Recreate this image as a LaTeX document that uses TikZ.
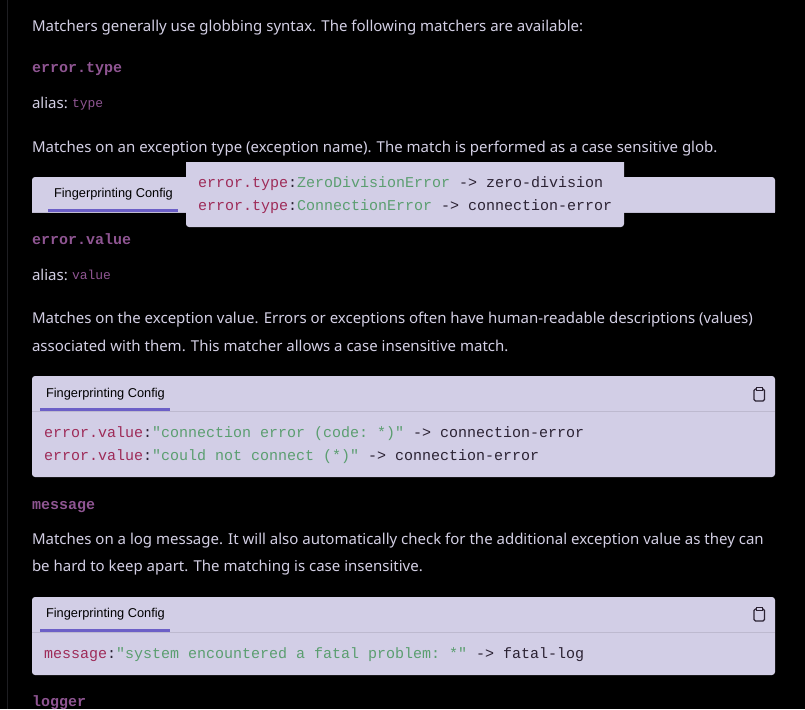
\documentclass[tikz,border=0pt]{standalone}
\usepackage{fontspec}
\setmainfont{Noto Sans}
\setmonofont{Liberation Mono}
\newfontfamily\tabfont{Liberation Sans}
\definecolor{pagebg}{HTML}{000000}
\definecolor{rulebg}{HTML}{1E1E22}
\definecolor{bodytxt}{HTML}{D3CFE4}
\definecolor{headtxt}{HTML}{8F5592}
\definecolor{boxbg}{HTML}{D2CEE6}
\definecolor{boxline}{HTML}{BDB9CF}
\definecolor{tabline}{HTML}{6C5FC7}
\definecolor{keytxt}{HTML}{9E2B58}
\definecolor{strtxt}{HTML}{5B9E70}
\definecolor{darktxt}{HTML}{2B2233}
\newcommand{\ckey}[1]{\textcolor{keytxt}{#1}}
\newcommand{\cstr}[1]{\textcolor{strtxt}{#1}}
\tikzset{
  every node/.style={inner sep=0pt, outer sep=0pt, anchor=base west},
  bodyline/.style={text=bodytxt, font=\fontsize{15}{16}\selectfont},
  headline/.style={text=headtxt, font=\fontsize{15}{16}\ttfamily\bfseries},
  aliasword/.style={text=headtxt, font=\fontsize{13}{16}\ttfamily},
  tablabel/.style={text=black, font=\fontsize{12.8}{16}\tabfont},
  codeline/.style={text=darktxt, font=\fontsize{15}{16}\ttfamily},
  codebox/.style={fill=boxbg},
  tabbar/.style={fill=tabline},
  sepline/.style={draw=boxline, line width=1pt},
}
\begin{document}
\begin{tikzpicture}[x=1pt, y=-1pt]
  \fill[pagebg] (0,0) rectangle (805,709);
  \useasboundingbox (0,0) rectangle (805,709);
  \clip (0,0) rectangle (805,709);
  \fill[rulebg] (7,0) rectangle (8,709);

  % Text above the first box
  \node[bodyline] (intro)  at (32,32)  {Matchers generally use globbing syntax. The following matchers are available:};
  \node[headline] (htype)  at (32,73)  {error.type};
  \node[bodyline] (atype)  at (32,108) {alias:};
  \node[aliasword] (wtype) at (72,107) {type};
  \node[bodyline] (ptype)  at (32,152) {Matches on an exception type (exception name). The match is performed as a case sensitive glob.};

  % First box, with the popped out code on top
  \draw[sepline] (32,212.5) -- (775,212.5);
  \fill[codebox] (32,212) [rounded corners=3pt] -- (32,177) -- (775,177) [sharp corners] -- (775,212) -- cycle;
  \fill[tabbar] (48,209) rectangle (178,212);
  \node[tablabel] (tabone) at (54,197) {Fingerprinting Config};
  \fill[codebox] (186,162) [rounded corners=3pt] -- (186,227) -- (624,227) [sharp corners] -- (624,162) -- cycle;
  \node[codeline] (cone)  at (198,187) {\ckey{error.type}:\cstr{ZeroDivisionError} -> zero-division};
  \node[codeline] (ctwo)  at (198,210) {\ckey{error.type}:\cstr{ConnectionError} -> connection-error};

  % error.value
  \node[headline] (hvalue)  at (32,244) {error.value};
  \node[bodyline] (avalue)  at (32,280) {alias:};
  \node[aliasword] (wvalue) at (72,279) {value};
  \node[bodyline] (pvalue)  at (32,323) {Matches on the exception value. Errors or exceptions often have human-readable descriptions (values)};
  \node[bodyline] (qvalue)  at (32,351) {associated with them. This matcher allows a case insensitive match.};

  % Second box
  \fill[codebox, rounded corners=3pt] (32,376) rectangle (775,477);
  \draw[sepline] (32,411.5) -- (775,411.5);
  \fill[tabbar] (40,408) rectangle (170,411);
  \node[tablabel] (tabtwo) at (46,397) {Fingerprinting Config};
  \draw[darktxt, line width=1.2pt, rounded corners=1.5pt] (754,389) rectangle (764.5,401);
  \draw[darktxt, line width=1pt, fill=boxbg] (756.5,387.5) rectangle (762,390);
  \node[codeline] (cthree) at (44,437) {\ckey{error.value}:\cstr{"connection error (code: *)"} -> connection-error};
  \node[codeline] (cfour)  at (44,460) {\ckey{error.value}:\cstr{"could not connect (*)"} -> connection-error};

  % message
  \node[headline] (hmsg) at (32,509) {message};
  \node[bodyline] (pmsg) at (32,544) {Matches on a log message. It will also automatically check for the additional exception value as they can};
  \node[bodyline] (qmsg) at (32,571) {be hard to keep apart. The matching is case insensitive.};

  % Third box
  \fill[codebox, rounded corners=3pt] (32,597) rectangle (775,675);
  \draw[sepline] (32,632.5) -- (775,632.5);
  \fill[tabbar] (40,629) rectangle (170,632);
  \node[tablabel] (tabthree) at (46,617) {Fingerprinting Config};
  \draw[darktxt, line width=1.2pt, rounded corners=1.5pt] (754,609) rectangle (764.5,621);
  \draw[darktxt, line width=1pt, fill=boxbg] (756.5,607.5) rectangle (762,610);
  \node[codeline] (cfive) at (44,658) {\ckey{message}:\cstr{"system encountered a fatal problem: *"} -> fatal-log};

  % logger, cut by the lower edge
  \node[headline] (hlogger) at (32,706) {logger};
\end{tikzpicture}
\end{document}
